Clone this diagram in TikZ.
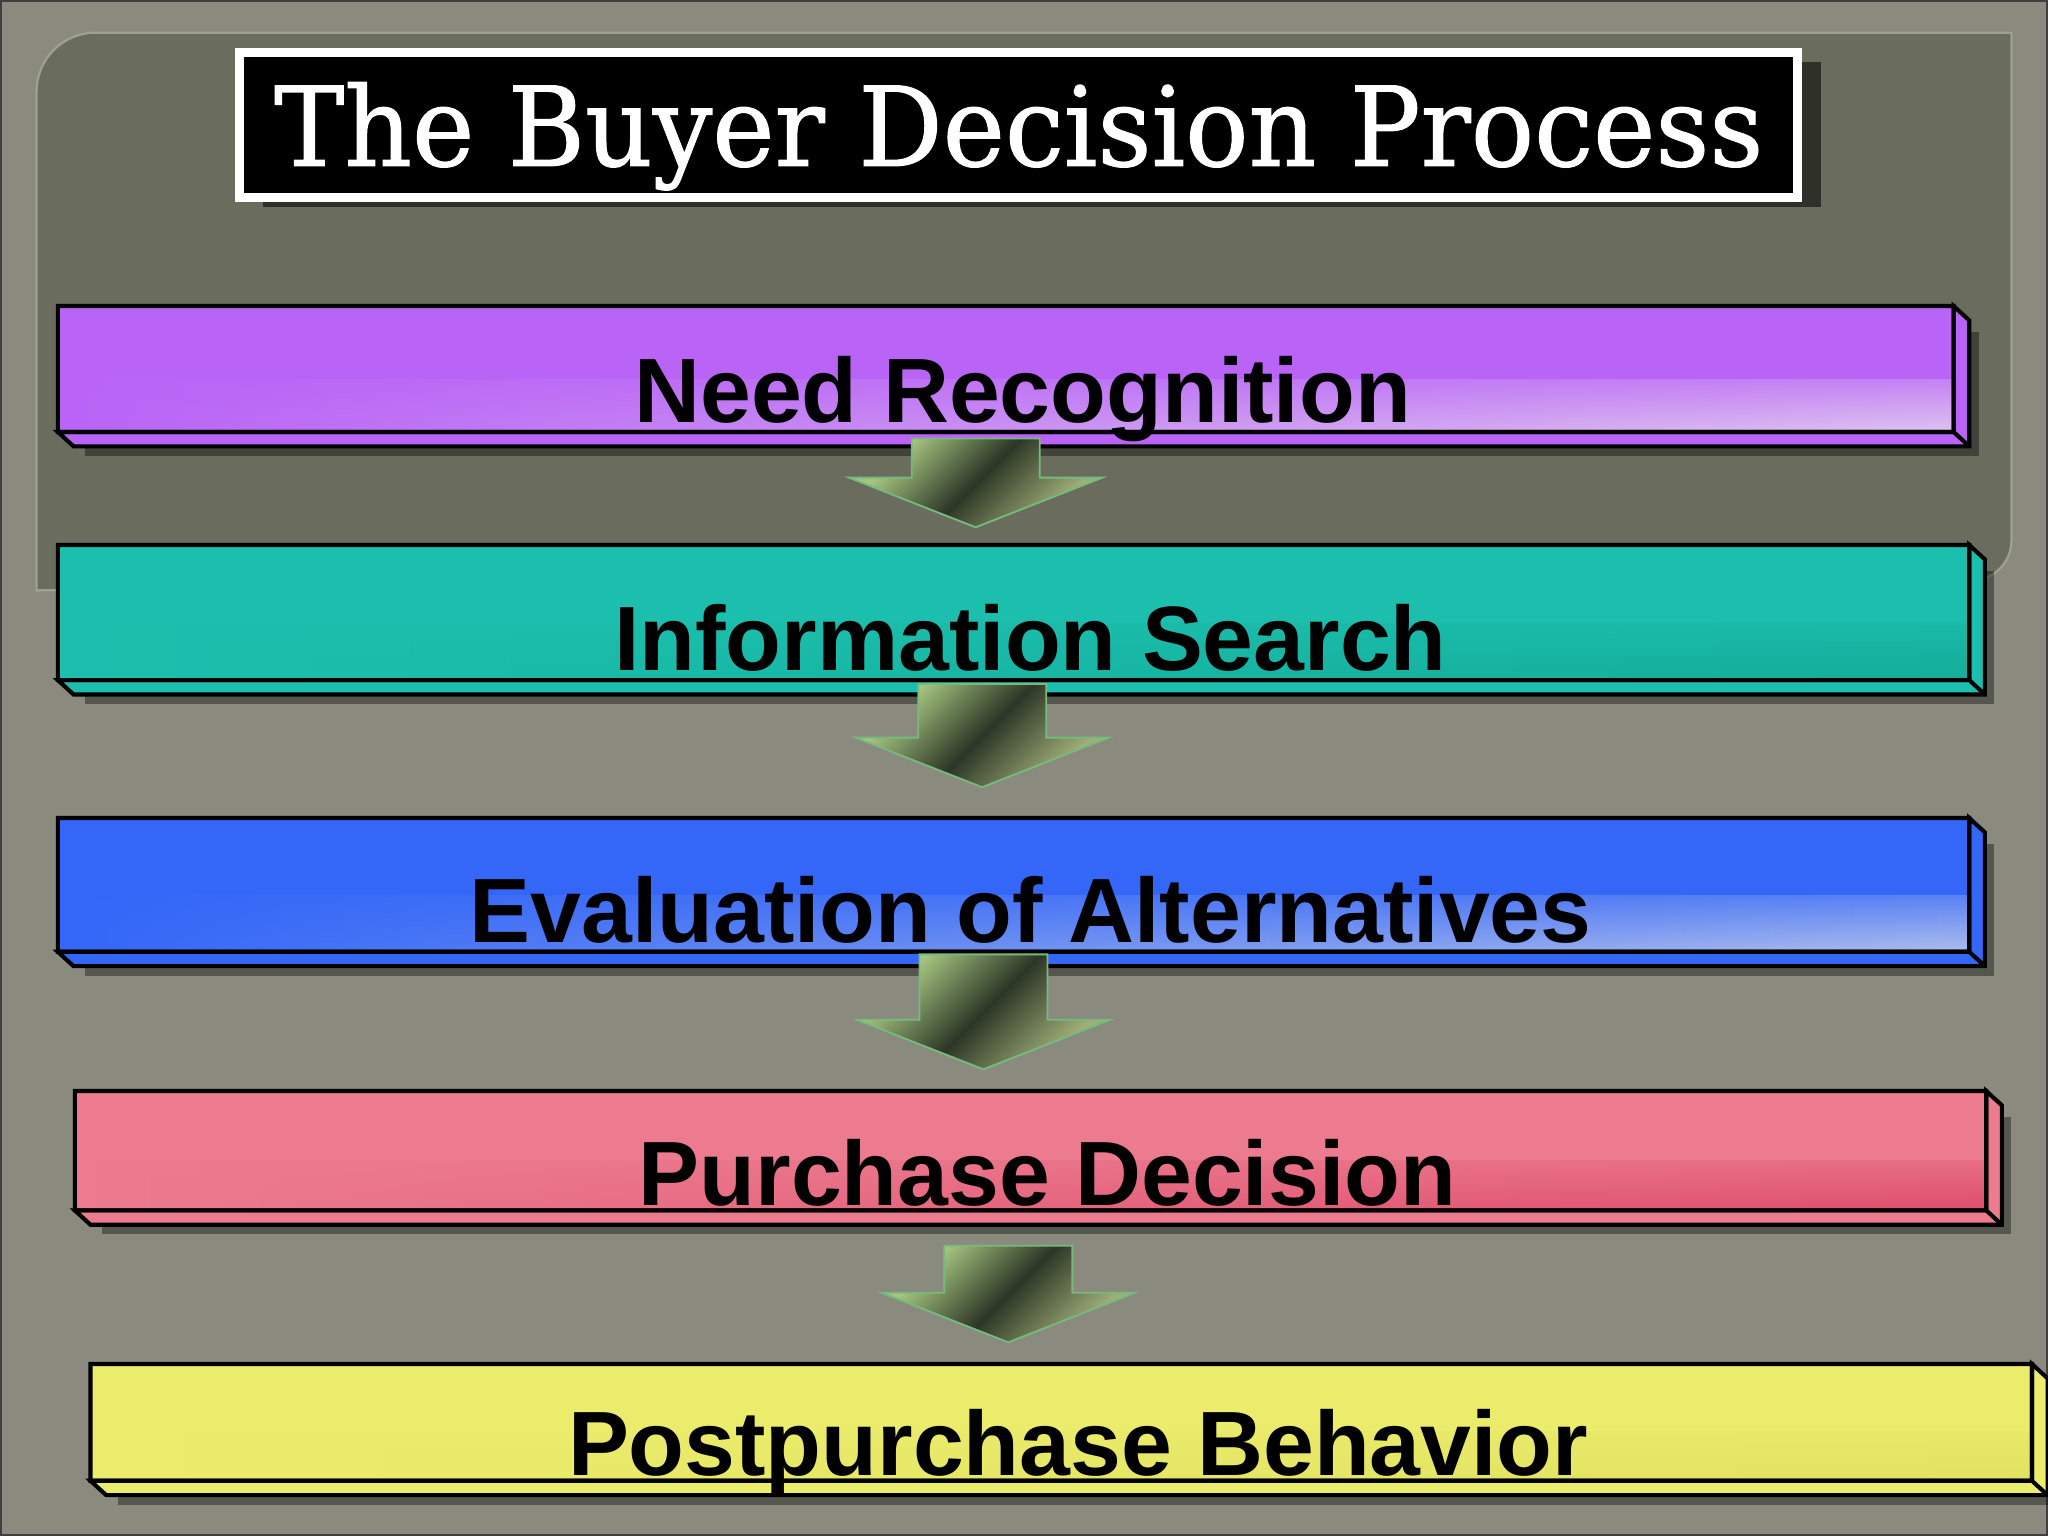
\documentclass[tikz,border=0pt]{standalone}
\usepackage{fontspec}
\setmainfont{Liberation Sans}
\newfontfamily\titlefont[FakeBold=1]{DejaVu Serif}
\usetikzlibrary{calc,shadows,fadings}
\definecolor{outerbg}{RGB}{138,139,126}
\definecolor{panelbg}{RGB}{106,108,93}
\definecolor{paneledge}{RGB}{158,160,144}
\definecolor{needc}{RGB}{185,100,246}
\definecolor{needl}{RGB}{224,200,240}
\definecolor{infoc}{RGB}{28,191,173}
\definecolor{infol}{RGB}{20,172,154}
\definecolor{evalc}{RGB}{52,103,248}
\definecolor{evall}{RGB}{180,194,236}
\definecolor{purchc}{RGB}{236,123,144}
\definecolor{purchl}{RGB}{222,76,106}
\definecolor{postc}{RGB}{235,236,108}
\definecolor{postl}{RGB}{226,226,98}
\definecolor{arrowl}{RGB}{166,196,128}
\definecolor{arrowd}{RGB}{44,54,38}
\definecolor{arrowr}{RGB}{160,174,120}
\definecolor{arrowe}{RGB}{118,186,126}
\pgfdeclarehorizontalshading{arrowband}{100bp}{color(0bp)=(arrowl); color(28bp)=(arrowl);
  color(50bp)=(arrowd); color(72bp)=(arrowr); color(100bp)=(arrowr)}
\tikzfading[name=fade up, top color=transparent!70, bottom color=transparent!5]
\tikzset{
  stage/.style={fill=#1, inner sep=0pt,
    drop shadow={shadow xshift=2mm, shadow yshift=-1.9mm, fill=black, opacity=.38}},
  stagetext/.style={font=\bfseries\fontsize{19.9}{24}\selectfont, anchor=base,
    inner sep=0pt, xshift=1.3mm, yshift=0.7mm},
  arrowfill/.style={shading=arrowband, shading angle=-45, draw=arrowe, line width=0.4pt},
  down arrow/.pic={\shadedraw[arrowfill] (-49,0) -- (49,0) -- (49,#1-38) -- (97,#1-38)
    -- (0,#1) -- (-97,#1-38) -- (-49,#1-38) -- cycle;}
}
\newcommand\stagefaces[3]{%
  \shade[left color=#2, right color=#3, path fading=fade up]
    ($(#1.north west)!0.58!(#1.south west)$) rectangle (#1.south east);
  \filldraw[fill=#2, line width=0.9pt] (#1.south west) -- ++(12,11)
    -- ([shift={(12,11)}]#1.south east) -- ([shift={(12,11)}]#1.north east)
    -- (#1.north east) -- (#1.south east) -- cycle;
  \draw[line width=0.9pt] (#1.south east) -- ++(12,11) (#1.south west) rectangle (#1.north east);
}
\begin{document}
\begin{tikzpicture}[x=0.1mm, y=-0.1mm]
  \useasboundingbox (0,0) rectangle (1568,1176);
  \fill[outerbg] (0,0) rectangle (1568,1176);
  \draw[black!75, line width=0.3mm] (0,0) rectangle (1568,1176);
  \filldraw[fill=panelbg, draw=paneledge, line width=0.5pt] (28,452) [rounded corners=4.5mm] -- (28,25)
    [sharp corners] -- (1540,25) [rounded corners=3mm] -- (1540,444) [sharp corners] -- cycle;

  \node[fill=black, draw=white, line width=0.7mm, minimum width=119.3mm, minimum height=11.1mm,
    inner sep=0pt, text height=6.2mm, text depth=0pt, text=white,
    drop shadow={shadow xshift=1.8mm, shadow yshift=-0.7mm, fill=black, opacity=.55},
    font=\titlefont\fontsize{24}{28}\selectfont] (title) at (780,96)
    {\scalebox{0.955}[1]{The Buyer Decision Process}};

  \node[stage=needc, minimum width=145mm, minimum height=9.5mm] (need) at (770,282.5) {};
  \stagefaces{need}{needc}{needl}
  \node[stage=infoc, minimum width=146.2mm, minimum height=10.2mm] (info) at (776,469) {};
  \stagefaces{info}{infoc}{infol}
  \node[stage=evalc, minimum width=146.2mm, minimum height=10.1mm] (eval) at (776,677.5) {};
  \stagefaces{eval}{evalc}{evall}
  \node[stage=purchc, minimum width=146.2mm, minimum height=9mm] (purch) at (789,881) {};
  \stagefaces{purch}{purchc}{purchl}
  \node[stage=postc, minimum width=148.5mm, minimum height=8.8mm] (post) at (812.5,1089) {};
  \stagefaces{post}{postc}{postl}

  \path ([shift={(-23,5)}]need.south) pic {down arrow=68};
  \path ([shift={(-24,3)}]info.south) pic {down arrow=79};
  \path ([shift={(-23,2)}]eval.south) pic {down arrow=88};
  \path ([shift={(-17,27)}]purch.south) pic {down arrow=74};

  \node[stagetext] (needt) at (need.south) {Need Recognition};
  \node[stagetext] (infot) at (info.south) {Information Search};
  \node[stagetext] (evalt) at (eval.south) {Evaluation of Alternatives};
  \node[stagetext, yshift=-0.3mm] (purcht) at (purch.south) {Purchase Decision};
  \node[stagetext, yshift=-0.3mm] (postt) at (post.south) {Postpurchase Behavior};
\end{tikzpicture}
\end{document}
